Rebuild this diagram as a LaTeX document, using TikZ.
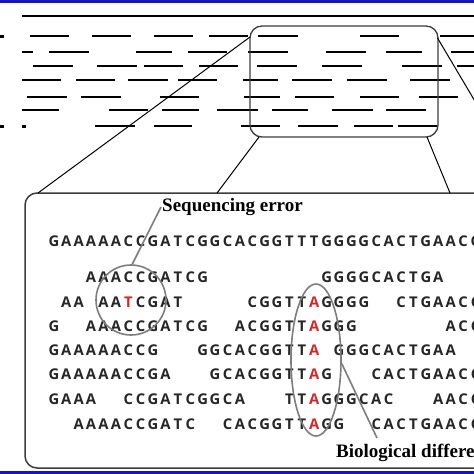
\documentclass[tikz,border=0pt]{standalone}
\usepackage{fontspec}
\usetikzlibrary{shapes.geometric}
\newfontfamily\seqfont{Open Sans}
\newfontfamily\labfont{Liberation Serif}
\definecolor{errred}{RGB}{210,40,40}
\definecolor{bandblue}{RGB}{20,20,200}
\definecolor{boxgray}{RGB}{60,60,60}
\definecolor{markgray}{RGB}{125,125,125}
\newlength\cw \setlength\cw{12.4pt}
\def\sqaux#1{\ifx#1\relax\else\sqchar{#1}\expandafter\sqaux\fi}
\def\sqchar#1{\makebox[\cw][c]{\if#1a\textcolor{errred}{A}\else\if#1t\textcolor{errred}{T}\else#1\fi\fi}}
\newcommand\sq[1]{\sqaux#1\relax}
\tikzset{
  dashline/.style={line width=2.2pt,black},
  seqread/.style={anchor=base west,inner sep=0pt,font=\seqfont\bfseries\fontsize{14.8}{14.8}\selectfont,text=black!85},
  lab/.style={anchor=west,inner sep=1pt,font=\labfont\bfseries\fontsize{19}{19}\selectfont},
  zoomframe/.style={draw=boxgray,line width=1.3pt,rounded corners=12pt},
  thin connector/.style={draw=black,line width=1pt},
  marker/.style={draw=markgray,line width=1.6pt},
}
\begin{document}
\begin{tikzpicture}[x=1pt,y=-1pt]
\useasboundingbox (0,0) rectangle (474,474);
\clip (0,0) rectangle (474,474);
\fill[white] (0,0) rectangle (474,474);
% blue bands
\fill[bandblue] (0,0) rectangle (474,2.5);
\fill[bandblue] (0,471) rectangle (474,474);
% edge marks
\fill[black] (0,34.5) rectangle (3.5,37.5);
\fill[black] (0,124.5) rectangle (3.5,127.5);
\fill[black] (22,124.5) rectangle (26,127.5);
% reference line
\draw[dashline] (22,16) -- (474,16);
% reads (dashes)
\foreach \a/\b in {30/69,92/131,154/193,209/248,258/298,360/399,440/476}
  \draw[dashline] (\a,36) -- (\b,36);
\foreach \a/\b in {22/33,49/89,136/172,188/227,248/288,326/366,386/422,451/476}
  \draw[dashline] (\a,52) -- (\b,52);
\foreach \a/\b in {33/73,97/137,144/183,199/238,257/297,322/362,402/442,457/476}
  \draw[dashline] (\a,66) -- (\b,66);
\foreach \a/\b in {22/61,76/115,128/168,178/217,243/278,292/332,347/387,410/450}
  \draw[dashline] (\a,80) -- (\b,80);
\foreach \a/\b in {27/67,81/121,160/199,244/280,295/334,360/399,419/458}
  \draw[dashline] (\a,97) -- (\b,97);
\foreach \a/\b in {22/59,109/148,162/199,217/258,272/308,332/373,386/426}
  \draw[dashline] (\a,110) -- (\b,110);
\foreach \a/\b in {95/135,154/192,241/280,298/338,354/393,398/437}
  \draw[dashline] (\a,126) -- (\b,126);
% zoom frame
\node[zoomframe,minimum width=188pt,minimum height=111pt,inner sep=0pt] (zb) at (344,81.5) {};
% big box
\coordinate (bbtl) at (25,193);
\draw[zoomframe,line width=1.5pt] (520,193) -- (bbtl) -- (25,468) -- (520,468);
% connector anchor points
\coordinate (ztl) at (250,37);
\coordinate (ztr) at (437.5,38);
\coordinate (zbl) at (259,137);
\coordinate (zbr) at (427,137);
\coordinate (btl) at (38,193);
\coordinate (btr) at (511,162);
\coordinate (bbl) at (217,193);
\coordinate (bbr) at (450,193);
\draw[thin connector] (ztl) -- (btl);
\draw[thin connector] (ztr) -- (btr);
\draw[thin connector] (zbl) -- (bbl);
\draw[thin connector] (zbr) -- (bbr);
% sequences
\node[seqread] (r1) at ({47.5+12.4*0},246) {\sq{GAAAAACCGATCGGCACGGTTTGGGGCACTGAACC}};
\node[seqread] (r2a) at ({47.5+12.4*3},282) {\sq{AAACCGATCG}};
\node[seqread] (r2b) at ({47.5+12.4*22},282) {\sq{GGGGCACTGA}};
\node[seqread] (r3a) at ({47.5+12.4*1},307) {\sq{AA}};
\node[seqread] (r3b) at ({47.5+12.4*4},307) {\sq{AAtCGAT}};
\node[seqread] (r3c) at ({47.5+12.4*16},307) {\sq{CGGTTaGGGG}};
\node[seqread] (r3d) at ({47.5+12.4*28},307) {\sq{CTGAACC}};
\node[seqread] (r4a) at ({47.5+12.4*0},331) {\sq{G}};
\node[seqread] (r4b) at ({47.5+12.4*3},331) {\sq{AAACCGATCG}};
\node[seqread] (r4c) at ({47.5+12.4*15},331) {\sq{ACGGTTaGGG}};
\node[seqread] (r4d) at ({47.5+12.4*32},331) {\sq{ACC}};
\node[seqread] (r5a) at ({47.5+12.4*0},355) {\sq{GAAAAACCG}};
\node[seqread] (r5b) at ({47.5+12.4*12},355) {\sq{GGCACGGTTa}};
\node[seqread] (r5c) at ({47.5+12.4*23},355) {\sq{GGGCACTGAA}};
\node[seqread] (r6a) at ({47.5+12.4*0},379) {\sq{GAAAAACCGA}};
\node[seqread] (r6b) at ({47.5+12.4*13},379) {\sq{GCACGGTTaG}};
\node[seqread] (r6c) at ({47.5+12.4*26},379) {\sq{CACTGAACC}};
\node[seqread] (r7a) at ({47.5+12.4*0},404) {\sq{GAAA}};
\node[seqread] (r7b) at ({47.5+12.4*6},404) {\sq{CCGATCGGCA}};
\node[seqread] (r7c) at ({47.5+12.4*19},404) {\sq{TTaGGGCAC}};
\node[seqread] (r7d) at ({47.5+12.4*31},404) {\sq{AACC}};
\node[seqread] (r8a) at ({47.5+12.4*2},429) {\sq{AAAACCGATC}};
\node[seqread] (r8b) at ({47.5+12.4*14},429) {\sq{CACGGTTaGG}};
\node[seqread] (r8c) at ({47.5+12.4*26},429) {\sq{CACTGAACC}};
% annotations
\node[marker,circle,minimum size=70pt,inner sep=0pt] (sqe) at (131,300) {};
\node[marker,ellipse,minimum width=50pt,minimum height=152pt,inner sep=0pt] (bio) at (316,360) {};
\node[lab] (selab) at (161,207) {Sequencing error};
\node[lab] (biolab) at (335,453) {Biological difference};
\coordinate (bioend) at (377,438);
\draw[marker] (sqe.88) -- (selab.west);
\draw[marker] (bio.-8) -- (bioend);
\end{tikzpicture}
\end{document}
